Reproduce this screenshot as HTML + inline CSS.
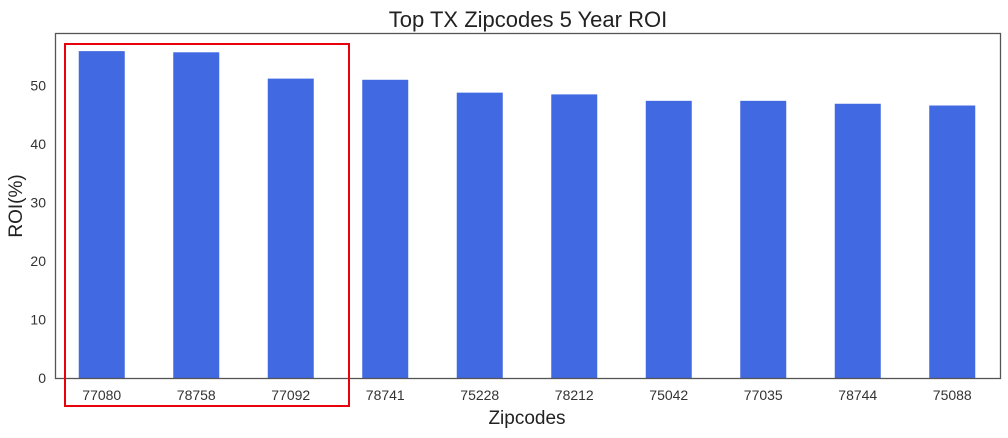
<!DOCTYPE html>
<html><head><meta charset="utf-8"><style>
body{margin:0;background:#fff;}
svg{display:block;font-family:"Liberation Sans",sans-serif;}
</style></head><body>
<svg id="chart" width="1008" height="438">
<text x="528" y="27" font-size="22" text-anchor="middle" fill="#222">Top TX Zipcodes 5 Year ROI</text>
<text x="527" y="424" font-size="19" text-anchor="middle" fill="#222">Zipcodes</text>
<text transform="translate(22,206) rotate(-90)" font-size="19" text-anchor="middle" fill="#222">ROI(%)</text>
<g id="bars"></g><g id="yt"></g><g id="xt"></g>
<rect x="55.5" y="33.5" width="945" height="345" fill="none" stroke="#555" stroke-width="1.3"/>
<rect x="65" y="44" width="284" height="362" fill="none" stroke="#e8000b" stroke-width="2"/>
</svg>
<script>
const categories=["77080","78758","77092","78741","75228","78212","75042","77035","78744","75088"];
const values=[55.9,55.7,51.2,51.0,48.8,48.5,47.4,47.4,46.9,46.6];
const yTicks=[0,10,20,30,40,50];
const NS="http://www.w3.org/2000/svg";
const L=55,R=1000,T=33,B=378,yMax=59;
function y(v){return B-(v/yMax)*(B-T);}
const step=(R-L)/categories.length;
function xc(i){return L+step*(i+0.5)-0.5;}
const bw=46;
const bars=document.getElementById('bars'),yt=document.getElementById('yt'),xt=document.getElementById('xt');
categories.forEach((c,i)=>{
 const r=document.createElementNS(NS,'rect');
 r.setAttribute('x',xc(i)-bw/2);r.setAttribute('y',y(values[i]));
 r.setAttribute('width',bw);r.setAttribute('height',B-y(values[i]));
 r.setAttribute('fill','#4169e1');
 
 
 bars.appendChild(r);
 const t=document.createElementNS(NS,'text');
 t.setAttribute('x',xc(i));t.setAttribute('y',400);t.setAttribute('font-size','14');
 t.setAttribute('text-anchor','middle');t.setAttribute('fill','#333');t.textContent=c;
 
 
 xt.appendChild(t);
});
yTicks.forEach(v=>{
 const t=document.createElementNS(NS,'text');
 t.setAttribute('x',46);t.setAttribute('y',y(v)+5);t.setAttribute('font-size','14');
 t.setAttribute('text-anchor','end');t.setAttribute('fill','#333');t.textContent=v;
 
 
 yt.appendChild(t);
});
</script>
</body></html>
